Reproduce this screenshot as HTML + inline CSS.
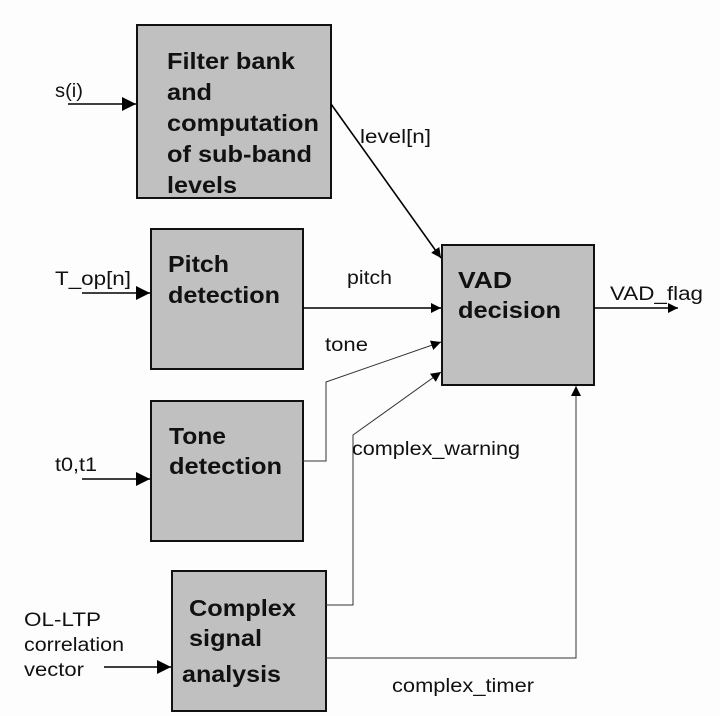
<!DOCTYPE html>
<html><head><style>html,body{margin:0;padding:0;background:#fdfdfd}svg{display:block}</style></head><body>
<svg width="720" height="716" viewBox="0 0 720 716" xmlns="http://www.w3.org/2000/svg" font-family="Liberation Sans, sans-serif">
<defs><marker id="a" viewBox="0 0 10 10" refX="10" refY="5" markerWidth="10" markerHeight="10" markerUnits="userSpaceOnUse" orient="auto"><path d="M0,0L10,5L0,10z" fill="#000"/></marker>
<marker id="b" viewBox="0 0 10 10" refX="10" refY="5" markerWidth="14" markerHeight="14" markerUnits="userSpaceOnUse" orient="auto"><path d="M0,0L10,5L0,10z" fill="#000"/></marker></defs>
<g fill="#c0c0c0" stroke="#111" stroke-width="2">
<rect x="137" y="25" width="194" height="173"/>
<rect x="151" y="229" width="152" height="140"/>
<rect x="442" y="245" width="152" height="140"/>
<rect x="151" y="401" width="152" height="140"/>
<rect x="172" y="571" width="154" height="140"/>
</g>
<g stroke="#000" stroke-width="1.6" fill="none">
<line x1="68" y1="104" x2="136" y2="104" marker-end="url(#b)"/>
<line x1="82" y1="293" x2="150" y2="293" marker-end="url(#b)"/>
<line x1="82" y1="479" x2="150" y2="479" marker-end="url(#b)"/>
<line x1="104" y1="667" x2="171" y2="667" marker-end="url(#b)"/>
<line x1="331" y1="104" x2="441" y2="258" marker-end="url(#a)"/>
<line x1="303" y1="308" x2="441" y2="308" marker-end="url(#a)"/>
<line x1="594" y1="308" x2="678" y2="308" marker-end="url(#a)"/>
</g>
<g stroke="#333" stroke-width="1" fill="none">
<polyline points="303,461 326,461 326,382 441,342" marker-end="url(#a)"/>
<polyline points="326,605 353,605 353,435 441,372" marker-end="url(#a)"/>
<polyline points="326,658 576,658 576,386" marker-end="url(#a)"/>
</g>
<g font-size="23" font-weight="bold" fill="#111" lengthAdjust="spacingAndGlyphs">
<text x="167" y="69" textLength="128" lengthAdjust="spacingAndGlyphs">Filter bank</text>
<text x="167" y="100" textLength="45" lengthAdjust="spacingAndGlyphs">and</text>
<text x="167" y="131" textLength="152" lengthAdjust="spacingAndGlyphs">computation</text>
<text x="167" y="162" textLength="145" lengthAdjust="spacingAndGlyphs">of sub-band</text>
<text x="167" y="193" textLength="70" lengthAdjust="spacingAndGlyphs">levels</text>
<text x="168" y="272" textLength="61" lengthAdjust="spacingAndGlyphs">Pitch</text>
<text x="168" y="303" textLength="112" lengthAdjust="spacingAndGlyphs">detection</text>
<text x="458" y="288" textLength="54" lengthAdjust="spacingAndGlyphs">VAD</text>
<text x="458" y="318" textLength="103" lengthAdjust="spacingAndGlyphs">decision</text>
<text x="169" y="444" textLength="57" lengthAdjust="spacingAndGlyphs">Tone</text>
<text x="169" y="474" textLength="113" lengthAdjust="spacingAndGlyphs">detection</text>
<text x="189" y="616" textLength="107" lengthAdjust="spacingAndGlyphs">Complex</text>
<text x="189" y="646" textLength="73" lengthAdjust="spacingAndGlyphs">signal</text>
<text x="182" y="682" textLength="99" lengthAdjust="spacingAndGlyphs">analysis</text>
</g>
<g font-size="19" fill="#111">
<text x="55" y="97" textLength="28" lengthAdjust="spacingAndGlyphs">s(i)</text>
<text x="360" y="143" textLength="71" lengthAdjust="spacingAndGlyphs">level[n]</text>
<text x="55" y="285" textLength="76" lengthAdjust="spacingAndGlyphs">T_op[n]</text>
<text x="347" y="284" textLength="45" lengthAdjust="spacingAndGlyphs">pitch</text>
<text x="610" y="300" textLength="93" lengthAdjust="spacingAndGlyphs">VAD_flag</text>
<text x="325" y="351" textLength="43" lengthAdjust="spacingAndGlyphs">tone</text>
<text x="55" y="471" textLength="42" lengthAdjust="spacingAndGlyphs">t0,t1</text>
<text x="352" y="455" textLength="168" lengthAdjust="spacingAndGlyphs">complex_warning</text>
<text x="24" y="626" textLength="77" lengthAdjust="spacingAndGlyphs">OL-LTP</text>
<text x="24" y="651" textLength="100" lengthAdjust="spacingAndGlyphs">correlation</text>
<text x="24" y="676" textLength="60" lengthAdjust="spacingAndGlyphs">vector</text>
<text x="392" y="692" textLength="142" lengthAdjust="spacingAndGlyphs">complex_timer</text>
</g>
</svg>
</body></html>
